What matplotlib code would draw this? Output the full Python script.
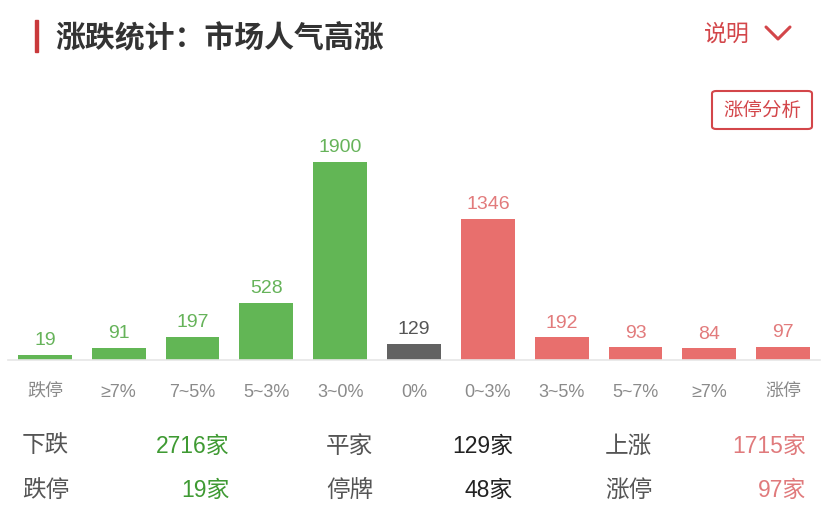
import matplotlib.pyplot as plt
from matplotlib.patches import FancyBboxPatch, Rectangle
from matplotlib.lines import Line2D

plt.rcParams['font.family'] = ['Noto Sans CJK SC', 'DejaVu Sans']
NUMFONT = ['Liberation Sans', 'Noto Sans CJK SC']

# data
cats = ['跌停', '≥7%', '7~5%', '5~3%', '3~0%', '0%', '0~3%', '3~5%', '5~7%', '≥7%', '涨停']
vals = [19, 91, 197, 528, 1900, 129, 1346, 192, 93, 84, 97]
kinds = ['down'] * 5 + ['flat'] + ['up'] * 5

stat_rows = [
    [('下跌', '2716家', 'down'), ('平家', '129家', 'flat'), ('上涨', '1715家', 'up')],
    [('跌停', '19家', 'down'), ('停牌', '48家', 'flat'), ('涨停', '97家', 'up')],
]

bar_col = {'down': '#62b655', 'flat': '#626262', 'up': '#e86f6d'}
lab_col = {'down': '#66b35a', 'flat': '#555555', 'up': '#e27b7c'}
stat_col = {'down': '#3f9a33', 'flat': '#222222', 'up': '#e07a7c'}

W, H = 828, 518
fig = plt.figure(figsize=(W / 100, H / 100), dpi=100)

# chart axes, placed in pixel coordinates
x0, x1 = 8, 820
ybase, ytop = 360, 100
scale = 195 / 1900            # px per unit
floor = 3 / scale             # small minimum bar stub under zero
ax = fig.add_axes([x0 / W, (H - ybase) / H, (x1 - x0) / W, (ybase - ytop) / H])
xs = list(range(len(cats)))
ax.bar(xs, [v + floor for v in vals], bottom=-floor, width=0.73,
       color=[bar_col[k] for k in kinds])
ax.set_xlim(-0.5, len(cats) - 0.5)
ax.set_ylim(-floor, -floor + (ybase - ytop) / scale)
for x, v, k in zip(xs, vals, kinds):
    ax.annotate(str(v), (x, v), xytext=(0, 4), textcoords='offset points',
                ha='center', va='bottom', fontsize=14, color=lab_col[k], family=NUMFONT)
for s in ['top', 'left', 'right']:
    ax.spines[s].set_visible(False)
ax.spines['bottom'].set_color('#e6e6e6')
ax.spines['bottom'].set_linewidth(1.2)
ax.set_yticks([])
ax.set_xticks(xs)
ax.set_xticklabels(cats, fontsize=13, color='#8a8a8a', family=NUMFONT)
ax.tick_params(axis='x', length=0, pad=17)


def px(x, y):
    return x / W, 1 - y / H


# title
fig.add_artist(Rectangle(px(35, 52), 3.5 / W, 32 / H, color='#c9393b', transform=fig.transFigure))
fig.text(*px(55, 37), '涨跌统计：市场人气高涨', fontsize=21.5, fontweight='bold',
         color='#333333', va='center', ha='left')

# "说明" with chevron
fig.text(*px(704, 34), '说明', fontsize=16.5, color='#d3464a', va='center', ha='left')
cx = [766, 778, 790]
cy = [27, 39, 27]
fig.add_artist(Line2D([c / W for c in cx], [1 - c / H for c in cy], color='#d3464a',
                      lw=2.2, transform=fig.transFigure, solid_capstyle='round'))

# button
bx, by, bw, bh = 712, 91, 100, 38
fig.add_artist(FancyBboxPatch(px(bx, by + bh), bw / W, bh / H,
                              boxstyle='round,pad=0,rounding_size=0.005',
                              fc='white', ec='#d3464a', lw=1.5, transform=fig.transFigure))
fig.text(*px(bx + bw / 2, by + bh / 2), '涨停分析', fontsize=14, color='#d3464a',
         va='center', ha='center')

# stats
row_y = [446, 490]
lab_x = [22, 326, 605]
val_x = [230, 513, 806]
for r, row in enumerate(stat_rows):
    for c, (lab, val, k) in enumerate(row):
        fig.text(*px(lab_x[c], row_y[r]), lab, fontsize=17, color='#555555', va='center', ha='left')
        fig.text(*px(val_x[c], row_y[r]), val, fontsize=16.5, color=stat_col[k], va='center',
                 ha='right', family=NUMFONT)

fig.savefig('out.png', dpi=100, facecolor='white')
